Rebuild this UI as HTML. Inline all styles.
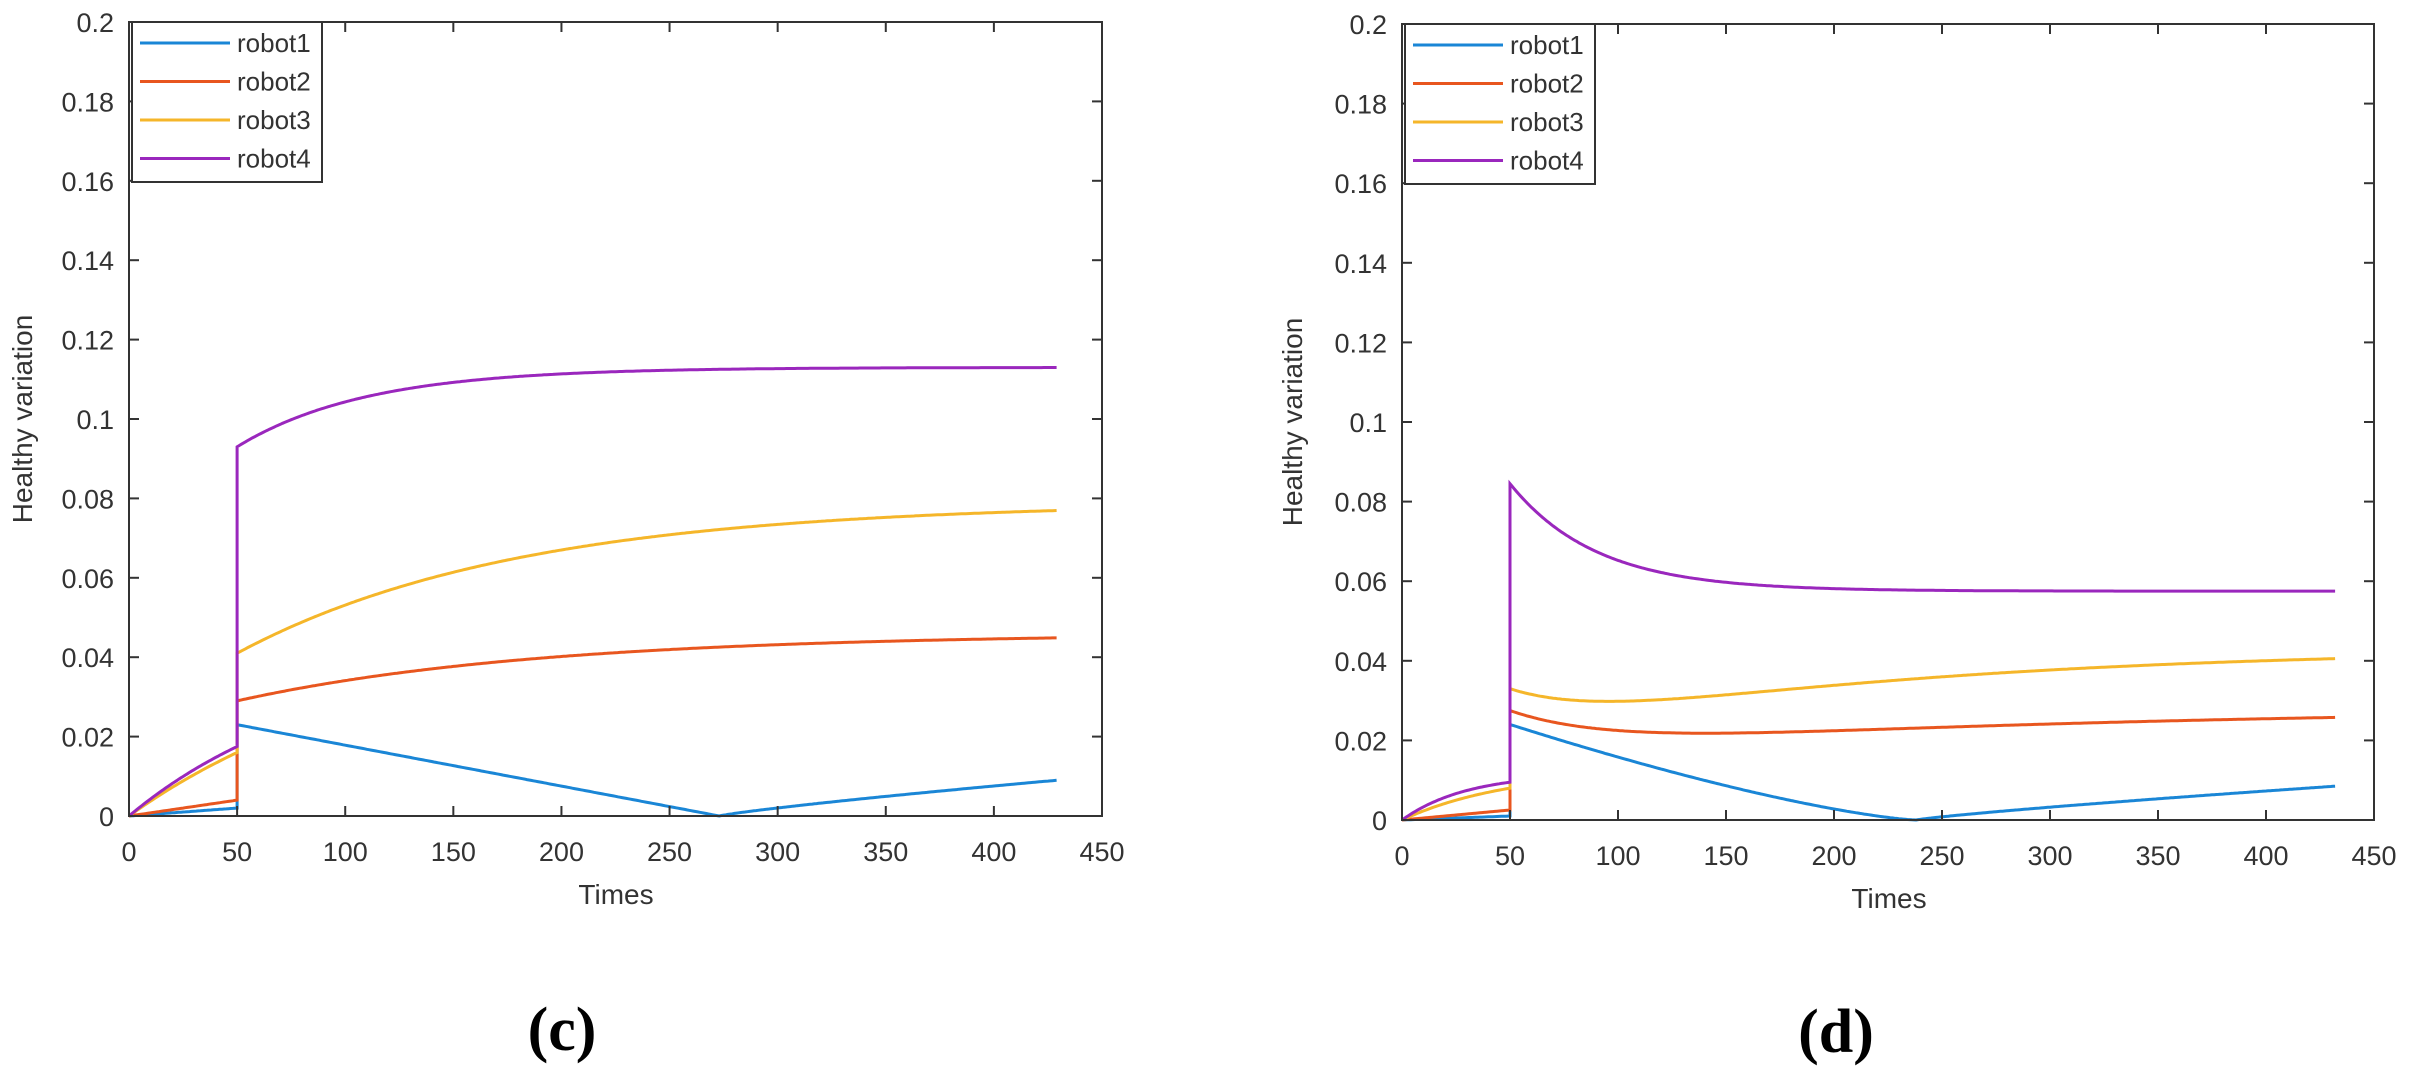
<!DOCTYPE html>
<html><head><meta charset="utf-8"><style>
html,body{margin:0;padding:0;background:#fff;}
svg{display:block;}
text{font-family:"Liberation Sans",Arial,sans-serif;fill:#333;}
</style></head><body>
<svg id="s" width="2410" height="1090" viewBox="0 0 2410 1090" xmlns="http://www.w3.org/2000/svg">
<text x="562" y="1050" text-anchor="middle" style="font-family:'Liberation Serif',serif;font-weight:bold;font-size:62px;fill:#000">(c)</text>
<text x="1836" y="1052" text-anchor="middle" style="font-family:'Liberation Serif',serif;font-weight:bold;font-size:62px;fill:#000">(d)</text>
</svg>
<script>
const S=document.getElementById('s'),NS='http://www.w3.org/2000/svg';
function el(t,a,txt){const e=document.createElementNS(NS,t);for(const k in a)e.setAttribute(k,a[k]);if(txt!==undefined)e.textContent=txt;S.appendChild(e);return e;}
const C=['#1a86d6','#e8561f','#f5b62a','#9a27bd'];
function plot(x0,x1,y0,y1,tEnd,fns,xlabX,ylabX){
  const sx=t=>x0+t*(x1-x0)/450, sy=v=>y0-v*(y0-y1)/0.2;
  fns.forEach((f,i)=>{let p=[];
    for(let t=0;t<=50;t+=1)p.push([sx(t),sy(f.a(t))]);
    for(let t=50;t<=tEnd;t+=1)p.push([sx(t),sy(f.b(t))]);
    el('polyline',{points:p.map(q=>q[0].toFixed(1)+','+q[1].toFixed(1)).join(' '),fill:'none',stroke:C[i],'stroke-width':3});});
  el('rect',{x:x0,y:y1,width:x1-x0,height:y0-y1,fill:'none',stroke:'#333','stroke-width':2});
  for(let k=0;k<=9;k++){const x=sx(k*50);
    el('line',{x1:x,y1:y0,x2:x,y2:y0-10,stroke:'#333','stroke-width':2});
    el('line',{x1:x,y1:y1,x2:x,y2:y1+10,stroke:'#333','stroke-width':2});
    el('text',{x:x,y:y0+45,'text-anchor':'middle','font-size':27},String(k*50));}
  for(let k=0;k<=10;k++){const v=k*0.02,y=sy(v);
    el('line',{x1:x0,y1:y,x2:x0+10,y2:y,stroke:'#333','stroke-width':2});
    el('line',{x1:x1,y1:y,x2:x1-10,y2:y,stroke:'#333','stroke-width':2});
    let s=k==0?'0':k==5?'0.1':k==10?'0.2':(v).toFixed(2);
    el('text',{x:x0-15,y:y+10,'text-anchor':'end','font-size':27},s);}
  el('text',{x:xlabX,y:y0+88,'text-anchor':'middle','font-size':28},'Times');
  el('text',{x:ylabX,y:(y0+y1)/2,'text-anchor':'middle','font-size':28,transform:`rotate(-90 ${ylabX} ${(y0+y1)/2})`},'Healthy variation');
  const lx=x0+3,lw=190;
  el('rect',{x:lx,y:y1,width:lw,height:160,fill:'#fff',stroke:'#333','stroke-width':2});
  ['robot1','robot2','robot3','robot4'].forEach((n,i)=>{const y=y1+21+i*38.5;
    el('line',{x1:lx+8,y1:y,x2:lx+98,y2:y,stroke:C[i],'stroke-width':3});
    el('text',{x:lx+105,y:y+9,'font-size':26},n);});
}
const E=Math.exp;
plot(129,1102,816,22,429,[
 {a:t=>0.002*t/50,b:t=>t<273?0.023*(273-t)/223:0.009*Math.pow((t-273)/156,0.85)},
 {a:t=>0.004*t/50,b:t=>0.029+0.017*(1-E(-(t-50)/140))},
 {a:t=>0.016*(1-E(-t/120))/(1-E(-50/120)),b:t=>0.041+0.038*(1-E(-(t-50)/130))},
 {a:t=>0.0175*(1-E(-t/90))/(1-E(-50/90)),b:t=>0.093+0.020*(1-E(-(t-50)/60))}
],616,32);
plot(1402,2374,820,24,432,[
 {a:t=>0.001*t/50,b:t=>t<238?0.024*Math.pow((238-t)/188,1.35):0.0085*Math.pow((t-238)/194,0.85)},
 {a:t=>0.0025*t/50,b:t=>{const s=t-50;return 0.0275-0.0105*(1-E(-s/45))+0.0112*(1-E(-s/250));}},
 {a:t=>0.008*(1-E(-t/50))/(1-E(-50/50)),b:t=>{const s=t-50;return 0.033-0.012*(1-E(-s/40))+0.0222*(1-E(-s/180));}},
 {a:t=>0.0095*(1-E(-t/30))/(1-E(-50/30)),b:t=>0.0575+0.027*E(-(t-50)/40)}
],1889,1302);
</script>
</body></html>
